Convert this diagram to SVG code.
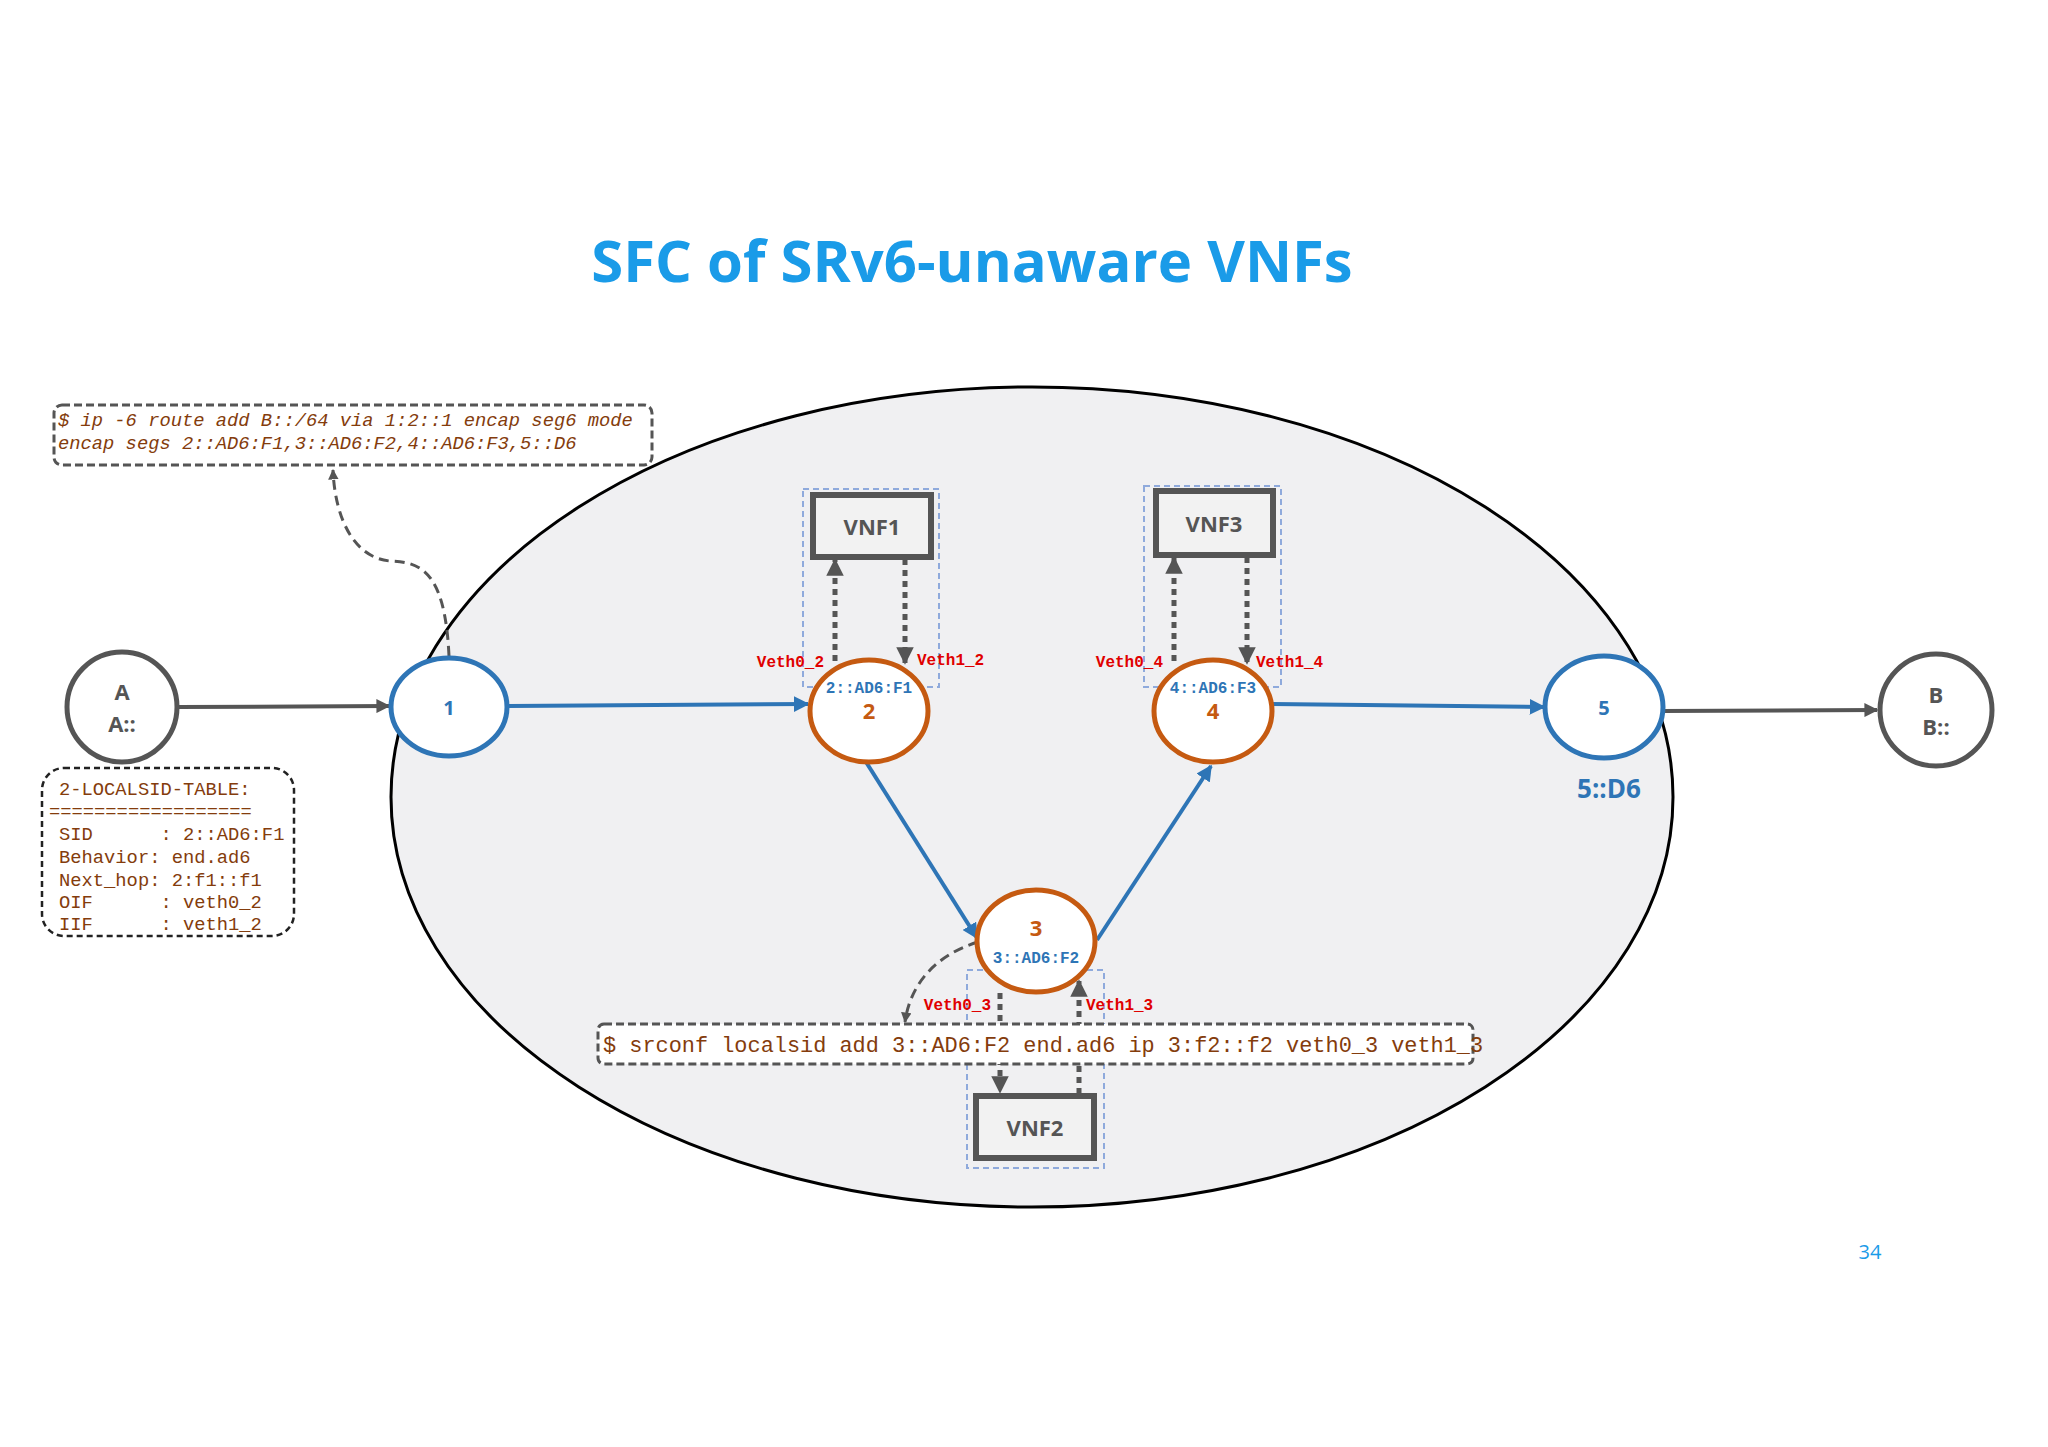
<svg xmlns="http://www.w3.org/2000/svg" width="2048" height="1447" viewBox="0 0 2048 1447">
<defs>
<style>
.blue{stroke:#2e75b6;stroke-width:5;fill:#fff}
.org{stroke:#c55a11;stroke-width:5;fill:#fff}
.gray{stroke:#555;stroke-width:5;fill:#fff}
.vnf{stroke:#555;stroke-width:6;fill:#f2f2f2}
.dbox{stroke:#8faadc;stroke-width:2;stroke-dasharray:6 4;fill:none}
.cmd{stroke:#555;stroke-width:3;stroke-dasharray:8 4;fill:#fff}
.lbl{font-family:"Open Sans","Liberation Sans",sans-serif;font-weight:bold;text-anchor:middle}
.mono{font-family:"Liberation Mono",monospace;fill:#843c0c}
.veth{font-family:"Liberation Mono",monospace;font-weight:bold;fill:#e00000;font-size:16px}
.sid{font-family:"Liberation Mono",monospace;font-weight:bold;fill:#2e75b6;font-size:16px;text-anchor:middle}
.bl{stroke:#2e75b6;stroke-width:4;fill:none;marker-end:url(#ab)}
.gl{stroke:#555;stroke-width:4;fill:none;marker-end:url(#ag)}
.dot{stroke:#555;stroke-width:5;stroke-dasharray:6 5;fill:none;marker-end:url(#ag)}
.dash{stroke:#555;stroke-width:3;stroke-dasharray:10 6;fill:none;marker-end:url(#ag)}
</style>
<marker id="ab" viewBox="0 0 10 10" refX="9" refY="5" markerWidth="4" markerHeight="4" orient="auto" markerUnits="strokeWidth"><path d="M0,0L10,5L0,10z" fill="#2e75b6"/></marker>
<marker id="ag" viewBox="0 0 10 10" refX="9" refY="5" markerWidth="3.5" markerHeight="3.5" orient="auto" markerUnits="strokeWidth"><path d="M0,0L10,5L0,10z" fill="#555"/></marker>
</defs>
<rect width="2048" height="1447" fill="#fff"/>
<text x="972" y="282" class="lbl" font-size="58" fill="#1a9be8" font-family="Lato,'Open Sans',sans-serif">SFC of SRv6-unaware VNFs</text>
<ellipse id="domain" cx="1032" cy="797" rx="641" ry="410" fill="#f0f0f2" stroke="#000" stroke-width="3"/>
<g id="connectors">
<line x1="178" y1="707" x2="389" y2="706" class="gl"/>
<line x1="509" y1="706" x2="808" y2="704" class="bl"/>
<line x1="866" y1="762" x2="977" y2="938" class="bl"/>
<line x1="1097" y1="940" x2="1211" y2="766" class="bl"/>
<line x1="1272" y1="704" x2="1544" y2="707" class="bl"/>
<line x1="1662" y1="711" x2="1877" y2="710" class="gl"/>
<line x1="835" y1="661" x2="835" y2="560" class="dot"/>
<line x1="905" y1="559" x2="905" y2="663" class="dot"/>
<line x1="1174" y1="661" x2="1174" y2="558" class="dot"/>
<line x1="1247" y1="557" x2="1247" y2="663" class="dot"/>
<line x1="1000" y1="993" x2="1000" y2="1092" class="dot"/>
<line x1="1079" y1="1094" x2="1079" y2="981" class="dot"/>
<path d="M449,656 C445,570 420,562 390,561 C355,558 335,520 333,470" class="dash"/>
<path d="M978,942 C935,955 910,985 905,1022" class="dash"/>
</g>
<g id="cmd1"><rect x="54" y="405" width="598" height="60" rx="8" class="cmd"/>
<text class="mono" font-style="italic" font-size="18.8" x="58" y="426">$ ip -6 route add B::/64 via 1:2::1 encap seg6 mode</text>
<text class="mono" font-style="italic" font-size="18.8" x="58" y="449">encap segs 2::AD6:F1,3::AD6:F2,4::AD6:F3,5::D6</text></g>
<g id="table"><rect x="42" y="768" width="252" height="168" rx="22" fill="#fff" stroke="#222" stroke-width="2.5" stroke-dasharray="6 4"/>
<g class="mono" font-size="18.8">
<text x="59" y="795">2-LOCALSID-TABLE:</text>
<text x="49" y="817">==================</text>
<text x="59" y="840" xml:space="preserve">SID      : 2::AD6:F1</text>
<text x="59" y="863">Behavior: end.ad6</text>
<text x="59" y="886">Next_hop: 2:f1::f1</text>
<text x="59" y="908" xml:space="preserve">OIF      : veth0_2</text>
<text x="59" y="930" xml:space="preserve">IIF      : veth1_2</text></g></g>
<g id="A"><circle cx="122" cy="707" r="55" class="gray"/><text x="122" y="700" class="lbl" font-size="22" fill="#555">A</text><text x="122" y="732" class="lbl" font-size="22" fill="#555">A::</text></g>
<g id="n1"><ellipse cx="449" cy="707" rx="58" ry="49" class="blue"/><text x="449" y="715" class="lbl" font-size="20" fill="#2e75b6">1</text></g>
<g id="vnf1"><rect x="803" y="489" width="136" height="198" class="dbox"/><rect x="813" y="495" width="118" height="62" class="vnf"/><text x="872" y="535" class="lbl" font-size="22" fill="#555">VNF1</text></g>
<g id="vnf3"><rect x="1144" y="486" width="137" height="201" class="dbox"/><rect x="1156" y="491" width="117" height="64" class="vnf"/><text x="1214" y="532" class="lbl" font-size="22" fill="#555">VNF3</text></g>
<g id="vnf2"><rect x="967" y="970" width="137" height="198" class="dbox"/><rect x="976" y="1096" width="118" height="62" class="vnf"/><text x="1035" y="1136" class="lbl" font-size="22" fill="#555">VNF2</text></g>
<g id="n2"><ellipse cx="869" cy="711" rx="59" ry="51" class="org"/><text x="869" y="719" class="lbl" font-size="22" fill="#c55a11">2</text><text x="869" y="693" class="sid">2::AD6:F1</text></g>
<g id="n4"><ellipse cx="1213" cy="711" rx="59" ry="51" class="org"/><text x="1213" y="719" class="lbl" font-size="22" fill="#c55a11">4</text><text x="1213" y="693" class="sid">4::AD6:F3</text></g>
<g id="n3"><ellipse cx="1036" cy="941" rx="59" ry="51" class="org"/><text x="1036" y="936" class="lbl" font-size="22" fill="#c55a11">3</text><text x="1036" y="963" class="sid">3::AD6:F2</text></g>
<g id="n5"><ellipse cx="1604" cy="707" rx="59" ry="51" class="blue"/><text x="1604" y="715" class="lbl" font-size="20" fill="#2e75b6">5</text><text x="1609" y="798" class="lbl" font-size="26" fill="#2e75b6">5::D6</text></g>
<g id="B"><circle cx="1936" cy="710" r="56" class="gray"/><text x="1936" y="703" class="lbl" font-size="22" fill="#555">B</text><text x="1936" y="735" class="lbl" font-size="22" fill="#555">B::</text></g>
<g id="veths">
<text x="824" y="667" class="veth" text-anchor="end">Veth0_2</text>
<text x="917" y="665" class="veth">Veth1_2</text>
<text x="1163" y="667" class="veth" text-anchor="end">Veth0_4</text>
<text x="1256" y="667" class="veth">Veth1_4</text>
<text x="991" y="1010" class="veth" text-anchor="end">Veth0_3</text>
<text x="1086" y="1010" class="veth">Veth1_3</text></g>
<g id="cmd2"><rect x="598" y="1024" width="875" height="40" rx="6" class="cmd"/>
<text class="mono" font-size="21.9" x="603" y="1052">$ srconf localsid add 3::AD6:F2 end.ad6 ip 3:f2::f2 veth0_3 veth1_3</text></g>
<text x="1870" y="1259" font-family="'Open Sans','Liberation Sans',sans-serif" font-size="20" fill="#1a9be8" text-anchor="middle">34</text>
</svg>
